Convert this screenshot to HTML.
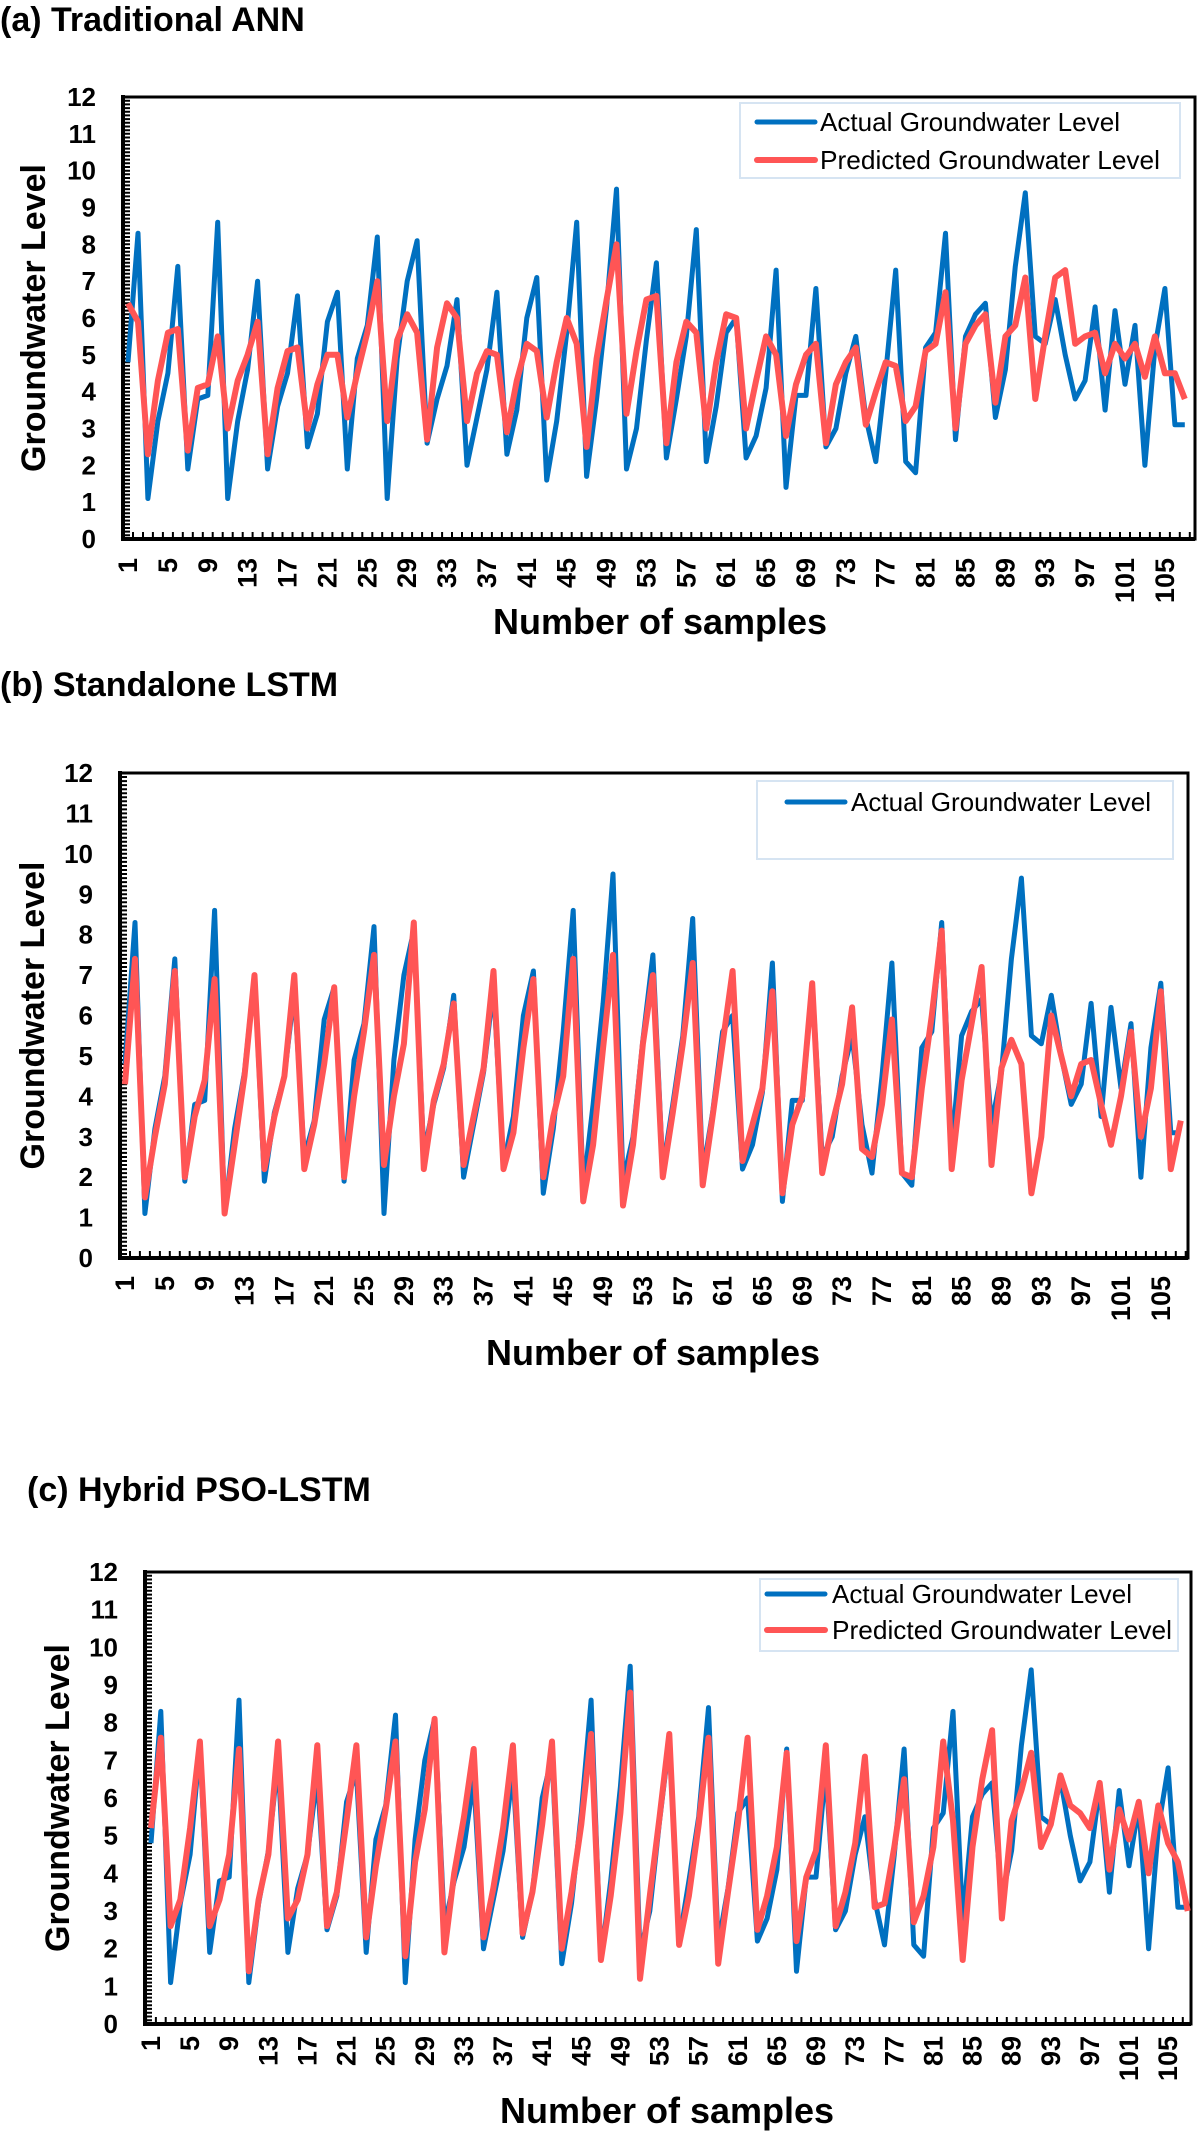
<!DOCTYPE html>
<html><head><meta charset="utf-8"><style>
body{margin:0;background:#fff;}
svg{display:block;font-family:"Liberation Sans",sans-serif;}
</style></head><body>
<svg id="fig" width="1200" height="2131" viewBox="0 0 1200 2131" xmlns="http://www.w3.org/2000/svg"></svg>
<script>
const yTicks=[0,1,2,3,4,5,6,7,8,9,10,11,12];
const actual=[4.8,8.3,1.1,3.2,4.5,7.4,1.9,3.8,3.9,8.6,1.1,3.2,4.6,7.0,1.9,3.6,4.5,6.6,2.5,3.4,5.9,6.7,1.9,4.9,5.8,8.2,1.1,4.9,7.0,8.1,2.6,3.8,4.7,6.5,2.0,3.3,4.6,6.7,2.3,3.5,6.0,7.1,1.6,3.2,5.6,8.6,1.7,3.8,6.3,9.5,1.9,3.0,5.4,7.5,2.2,3.8,5.5,8.4,2.1,3.6,5.6,6.0,2.2,2.8,4.1,7.3,1.4,3.9,3.9,6.8,2.5,3.0,4.5,5.5,3.3,2.1,4.5,7.3,2.1,1.8,5.2,5.6,8.3,2.7,5.5,6.1,6.4,3.3,4.6,7.4,9.4,5.5,5.3,6.5,5.0,3.8,4.3,6.3,3.5,6.2,4.2,5.8,2.0,5.2,6.8,3.1,3.1];
const predANN=[6.4,5.9,2.3,4.3,5.6,5.7,2.4,4.1,4.2,5.5,3.0,4.3,5.0,5.9,2.3,4.1,5.1,5.2,3.0,4.2,5.0,5.0,3.3,4.5,5.6,7.0,3.2,5.4,6.1,5.6,2.7,5.2,6.4,6.0,3.2,4.5,5.1,5.0,2.9,4.3,5.3,5.1,3.3,4.8,6.0,5.3,2.5,4.9,6.5,8.0,3.4,5.1,6.5,6.6,2.6,4.8,5.9,5.6,3.0,4.8,6.1,6.0,3.0,4.3,5.5,5.0,2.8,4.2,5.0,5.3,2.6,4.2,4.8,5.2,3.1,4.0,4.8,4.7,3.2,3.6,5.1,5.3,6.7,3.0,5.3,5.8,6.1,3.7,5.5,5.8,7.1,3.8,5.5,7.1,7.3,5.3,5.5,5.6,4.5,5.3,4.9,5.3,4.4,5.5,4.5,4.5,3.8];
const predLSTM=[4.3,7.4,1.5,3.0,4.3,7.1,2.0,3.5,4.4,6.9,1.1,2.8,4.5,7.0,2.2,3.5,4.5,7.0,2.2,3.3,4.8,6.7,2.0,4.0,5.6,7.5,2.3,4.0,5.3,8.3,2.2,3.9,4.8,6.3,2.3,3.5,4.7,7.1,2.2,3.1,5.2,6.9,2.0,3.5,4.5,7.4,1.4,2.8,5.2,7.5,1.3,2.8,5.3,7.0,2.0,3.6,5.3,7.3,1.8,3.5,5.3,7.1,2.4,3.3,4.2,6.6,1.6,3.3,4.0,6.8,2.1,3.3,4.3,6.2,2.7,2.5,3.8,5.9,2.1,2.0,4.2,6.0,8.1,2.2,4.4,5.8,7.2,2.3,4.7,5.4,4.8,1.6,3.0,6.0,5.0,4.0,4.8,4.9,3.8,2.8,4.0,5.6,3.0,4.2,6.6,2.2,3.4];
const predPSO=[5.2,7.6,2.6,3.3,5.2,7.5,2.6,3.3,4.5,7.3,1.4,3.3,4.5,7.5,2.8,3.3,4.5,7.4,2.6,3.5,5.4,7.4,2.3,4.2,5.7,7.5,1.8,4.3,5.7,8.1,1.9,4.0,5.5,7.3,2.3,3.6,5.2,7.4,2.4,3.5,5.3,7.5,2.0,3.5,5.3,7.7,1.7,3.4,5.6,8.8,1.2,3.4,5.5,7.7,2.1,3.4,5.3,7.6,1.6,3.5,5.3,7.6,2.5,3.4,4.7,7.2,2.2,3.9,4.6,7.4,2.6,3.5,4.8,7.1,3.1,3.2,4.7,6.5,2.7,3.4,4.7,7.5,5.4,1.7,4.7,6.5,7.8,2.8,5.4,6.2,7.2,4.7,5.3,6.6,5.8,5.6,5.2,6.4,4.1,5.7,4.9,5.9,4.0,5.8,4.8,4.3,3.0];
const xTickLabels=[1,5,9,13,17,21,25,29,33,37,41,45,49,53,57,61,65,69,73,77,81,85,89,93,97,101,105];

const NS="http://www.w3.org/2000/svg";
const svg=document.getElementById('fig');
function mk(tag,attrs,parent,text){const e=document.createElementNS(NS,tag);for(const k in attrs)e.setAttribute(k,attrs[k]);if(text!==undefined)e.textContent=text;(parent||svg).appendChild(e);return e;}

const panels=[
 {id:'a',title:'(a) Traditional ANN',tx:0,ty:31,ax:123,right:1195,top:97,bot:539,x1:128,dx:9.97,ylx:33,xtTop:558,xtitleY:634,xtitleX:660,pred:predANN,
  leg:{x:740,y:103,w:440,h:75,rows:[[122,'#0070C0','Actual Groundwater Level'],[160,'#FF5555','Predicted Groundwater Level']],lx:757,tx:820}},
 {id:'b',title:'(b) Standalone LSTM',tx:0,ty:696,ax:120,right:1188,top:773,bot:1258,x1:125,dx:9.96,ylx:32,xtTop:1276,xtitleY:1365,xtitleX:653,pred:predLSTM,
  leg:{x:757,y:781,w:416,h:78,rows:[[802,'#0070C0','Actual Groundwater Level']],lx:787,tx:851}},
 {id:'c',title:'(c) Hybrid PSO-LSTM',tx:27,ty:1501,ax:145,right:1191,top:1572,bot:2024,x1:151,dx:9.78,ylx:57,xtTop:2036,xtitleY:2123,xtitleX:667,pred:predPSO,
  leg:{x:760,y:1579,w:418,h:72,rows:[[1594,'#0070C0','Actual Groundwater Level'],[1630,'#FF5555','Predicted Groundwater Level']],lx:767,tx:832}}
];

panels.forEach(p=>{
 const g=mk('g',{});
 
 
 const yS=v=>p.bot-(v/12)*(p.bot-p.top);
 const xS=i=>p.x1+i*p.dx;
 const t=mk('text',{x:p.tx,y:p.ty,'font-size':34,'font-weight':'bold',fill:'#000'},g,p.title);
 
 
 const fr=mk('rect',{x:p.ax,y:p.top,width:p.right-p.ax,height:p.bot-p.top,fill:'none',stroke:'#000','stroke-width':3},g);
 
 
 let d='';
 for(let k=0;k<=120;k++){const y=yS(k/10);d+=`M${p.ax} ${y.toFixed(1)}h7`;}
 for(let i=0;i<108;i++){const x=p.x1+(i-0.5)*p.dx;if(x>p.ax&&x<p.right)d+=`M${x.toFixed(1)} ${p.bot}v-7`;}
 const tk=mk('path',{d:d,stroke:'#000','stroke-width':2,fill:'none'},g);
 
 
 mk('line',{x1:p.ax,y1:p.top-2,x2:p.ax,y2:p.bot+2,stroke:'#000','stroke-width':4},g);
 mk('line',{x1:p.ax-2,y1:p.bot,x2:p.right,y2:p.bot,stroke:'#000','stroke-width':4},g);
 yTicks.forEach(v=>{
  const e=mk('text',{x:p.ax-27,y:yS(v)+9,'font-size':26,'font-weight':'bold','text-anchor':'end'},g,String(v));
  
  
 });
 const yl=mk('text',{x:p.ylx,y:(p.top+p.bot)/2,'font-size':34,'font-weight':'bold','text-anchor':'middle',transform:`rotate(-90 ${p.ylx} ${(p.top+p.bot)/2}) translate(0 12)`},g,'Groundwater Level');
 
 
 xTickLabels.forEach(v=>{
  const x=xS(v-1)+9;
  const e=mk('text',{x:x,y:p.xtTop,'font-size':27,'font-weight':'bold','text-anchor':'end',transform:`rotate(-90 ${x} ${p.xtTop})`},g,String(v));
  
  
 });
 const xt=mk('text',{x:p.xtitleX,y:p.xtitleY,'font-size':36,'font-weight':'bold','text-anchor':'middle'},g,'Number of samples');
 
 
 const pts=a=>a.map((v,i)=>xS(i).toFixed(1)+','+yS(v).toFixed(1)).join(' ');
 const s1=mk('polyline',{points:pts(actual),fill:'none',stroke:'#0070C0','stroke-width':5,'stroke-linejoin':'round'},g);
 
 
 const s2=mk('polyline',{points:pts(p.pred),fill:'none',stroke:'#FF5555','stroke-width':6,'stroke-linejoin':'round'},g);
 
 
 const L=p.leg;
 const lg=mk('g',{},g);
 
 
 mk('rect',{x:L.x,y:L.y,width:L.w,height:L.h,fill:'#fff',stroke:'#d6e4f2','stroke-width':2},lg);
 L.rows.forEach(r=>{
  const le=mk('g',{},lg);
  
  
  mk('line',{x1:L.lx,y1:r[0],x2:L.lx+58,y2:r[0],stroke:r[1],'stroke-width':r[1]=='#FF5555'?6:5,'stroke-linecap':'round'},le);
  mk('text',{x:L.tx,y:r[0]+9,'font-size':26,fill:'#000',textLength:r[2].length>25?340:300,lengthAdjust:'spacingAndGlyphs'},le,r[2]);
 });
});
</script>
</body></html>
